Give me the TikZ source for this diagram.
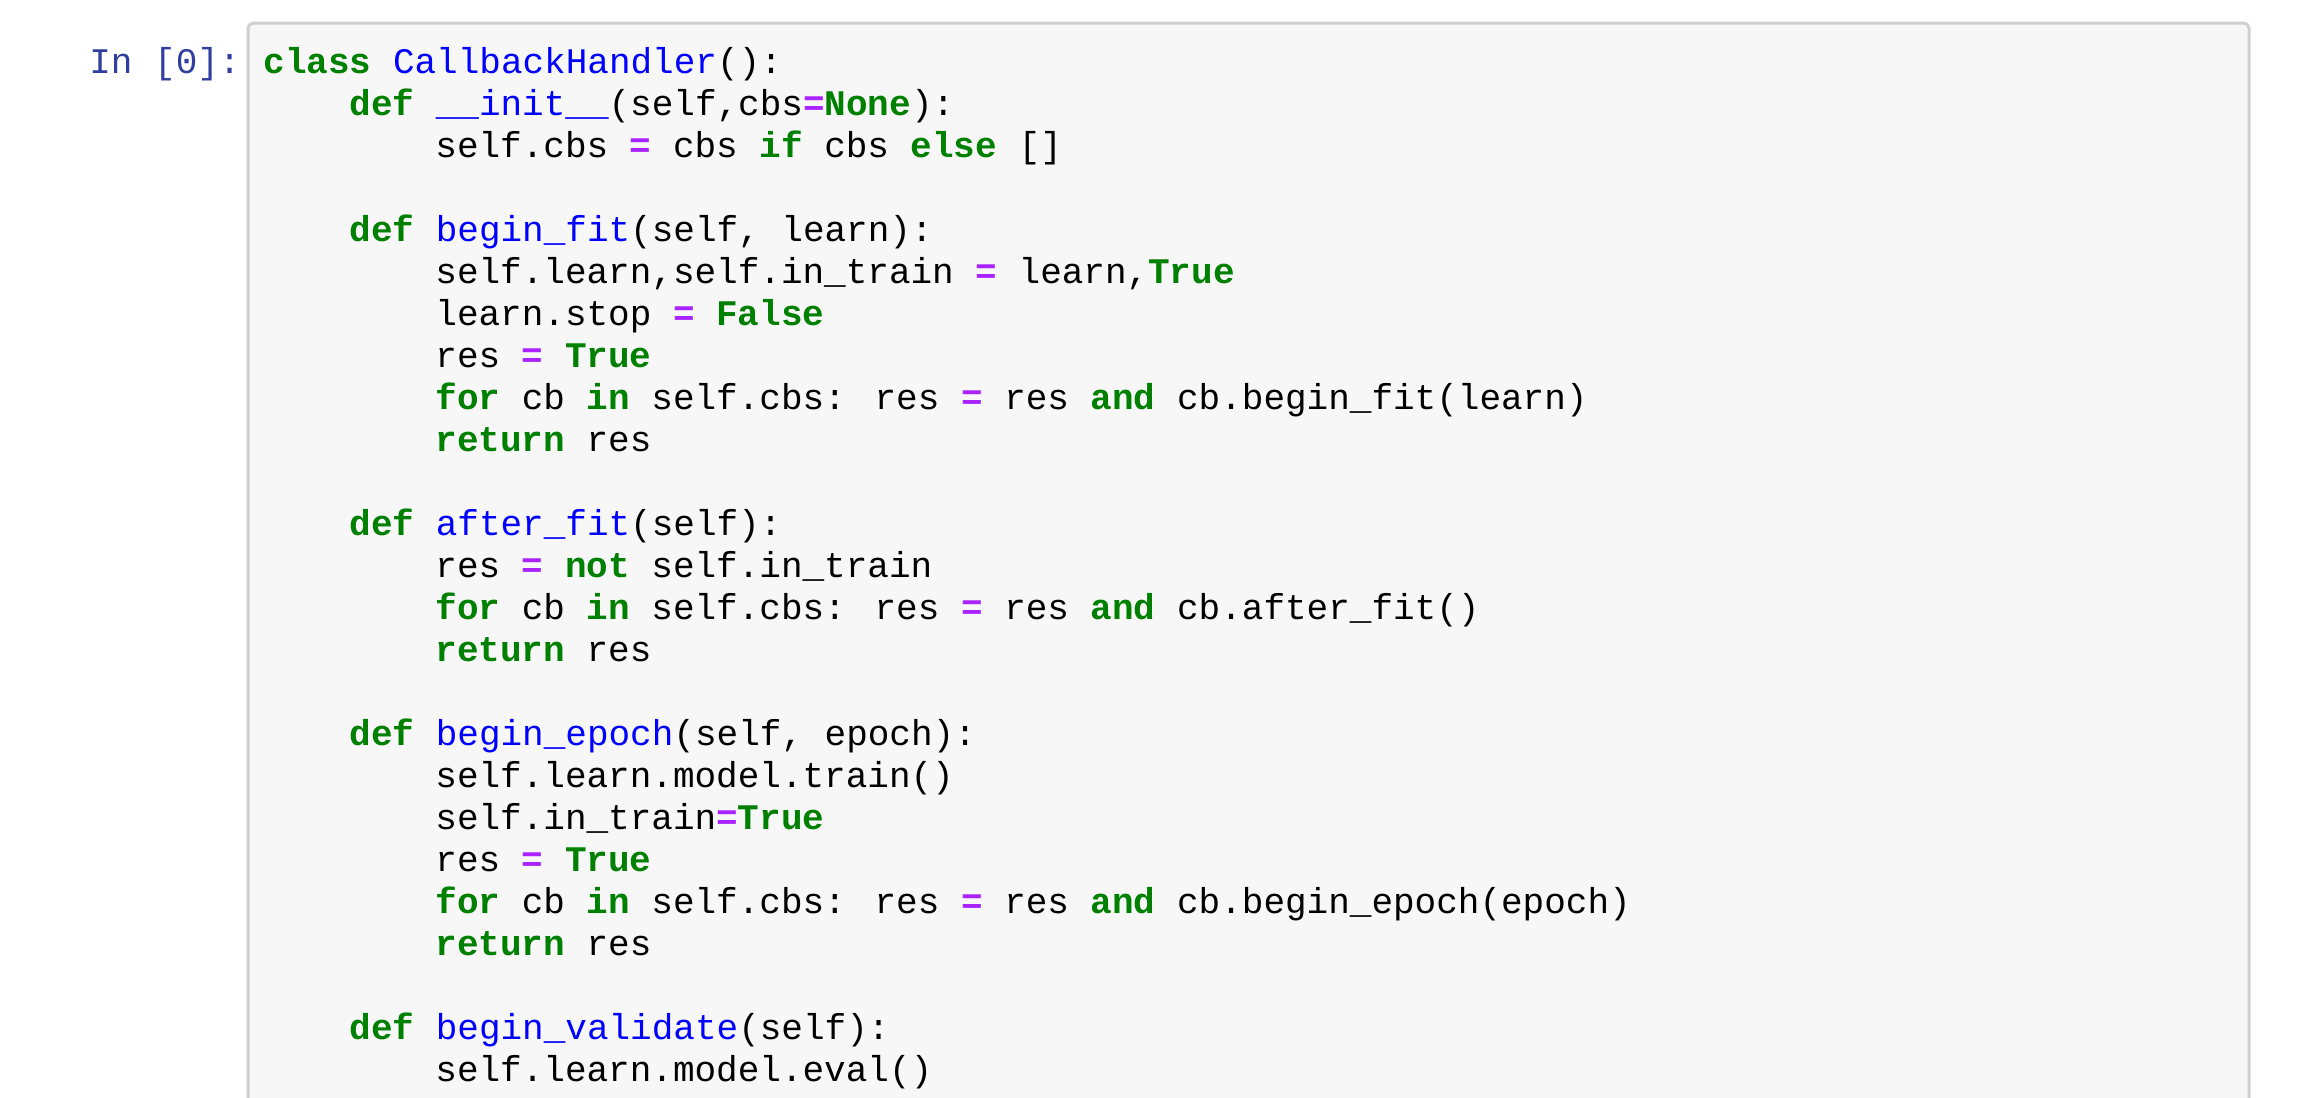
\documentclass[tikz,border=0pt]{standalone}
\usepackage{fontspec}
\setmainfont{Liberation Mono}
\definecolor{kwg}{HTML}{008000}
\definecolor{fnb}{HTML}{0000FF}
\definecolor{opp}{HTML}{AA22FF}
\definecolor{prm}{HTML}{303F9F}
\definecolor{cellbg}{HTML}{F7F7F7}
\definecolor{cellbd}{HTML}{CFCFCF}
\newcommand\kw[1]{\textcolor{kwg}{\bfseries #1}}
\newcommand\fn[1]{\textcolor{fnb}{#1}}
\newcommand\eq{\textcolor{opp}{\bfseries =}}
\tikzset{codeline/.style={anchor=base west,inner sep=0pt,font=\fontsize{18pt}{21pt}\selectfont,text=black}}
\begin{document}
\begin{tikzpicture}[x=0.5pt,y=-0.5pt]
\useasboundingbox (0,0) rectangle (2304,1098);
\fill[white] (0,0) rectangle (2304,1098);
\begin{scope}
\clip (0,0) rectangle (2304,1098);
\draw[cellbd,fill=cellbg,line width=1.5pt,rounded corners=3pt] (248,23) rectangle (2249,1140);
\end{scope}
\node[codeline,anchor=base east,text=prm] (prompt) at (241,73) {In [0]:};
\node[codeline] (l0) at (263,73) {\kw{class} \fn{CallbackHandler}():};
\node[codeline] (l1) at (349,115) {\kw{def} \fn{\_\_init\_\_}(self,cbs\eq\kw{None}):};
\node[codeline] (l2) at (435,157) {self.cbs \eq{} cbs \kw{if} cbs \kw{else} []};
\node[codeline] (l4) at (349,241) {\kw{def} \fn{begin\_fit}(self, learn):};
\node[codeline] (l5) at (435,283) {self.learn,self.in\_train \eq{} learn,\kw{True}};
\node[codeline] (l6) at (435,325) {learn.stop \eq{} \kw{False}};
\node[codeline] (l7) at (435,367) {res \eq{} \kw{True}};
\node[codeline] (l8) at (435,409) {\kw{for} cb \kw{in} self.cbs: res \eq{} res \kw{and} cb.begin\_fit(learn)};
\node[codeline] (l9) at (435,451) {\kw{return} res};
\node[codeline] (l11) at (349,535) {\kw{def} \fn{after\_fit}(self):};
\node[codeline] (l12) at (435,577) {res \eq{} \kw{not} self.in\_train};
\node[codeline] (l13) at (435,619) {\kw{for} cb \kw{in} self.cbs: res \eq{} res \kw{and} cb.after\_fit()};
\node[codeline] (l14) at (435,661) {\kw{return} res};
\node[codeline] (l16) at (349,745) {\kw{def} \fn{begin\_epoch}(self, epoch):};
\node[codeline] (l17) at (435,787) {self.learn.model.train()};
\node[codeline] (l18) at (435,829) {self.in\_train\eq\kw{True}};
\node[codeline] (l19) at (435,871) {res \eq{} \kw{True}};
\node[codeline] (l20) at (435,913) {\kw{for} cb \kw{in} self.cbs: res \eq{} res \kw{and} cb.begin\_epoch(epoch)};
\node[codeline] (l21) at (435,955) {\kw{return} res};
\node[codeline] (l23) at (349,1039) {\kw{def} \fn{begin\_validate}(self):};
\node[codeline] (l24) at (435,1081) {self.learn.model.eval()};
\end{tikzpicture}
\end{document}
